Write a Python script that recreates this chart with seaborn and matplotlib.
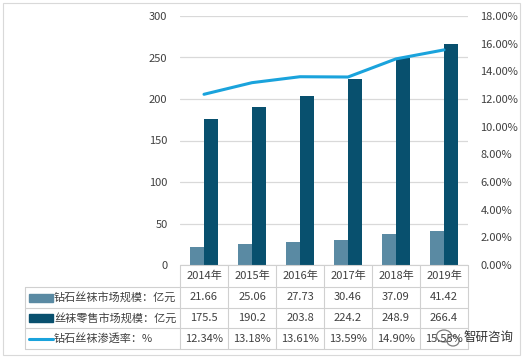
import matplotlib
matplotlib.use("Agg")
import matplotlib.pyplot as plt
import seaborn as sns
import pandas as pd
import numpy as np
from matplotlib.lines import Line2D
from matplotlib.patches import Rectangle, Ellipse
from matplotlib.ticker import MultipleLocator, FuncFormatter

# 数据
years = ["2014年", "2015年", "2016年", "2017年", "2018年", "2019年"]
diamond_size = [21.66, 25.06, 27.73, 30.46, 37.09, 41.42]
retail_size = [175.5, 190.2, 203.8, 224.2, 248.9, 266.4]
penetration = [12.34, 13.18, 13.61, 13.59, 14.90, 15.55]
series_names = ["钻石丝袜市场规模：亿元", "丝袜零售市场规模：亿元", "钻石丝袜渗透率：%"]
colors = ["#5a8aa3", "#08506e", "#1aa3dc"]

sns.set_theme(style="white")
plt.rcParams['font.family'] = ['Noto Sans CJK SC', 'DejaVu Sans']
plt.rcParams['axes.unicode_minus'] = False
TXT = "#404040"

W, H = 526, 360
fig = plt.figure(figsize=(W / 100, H / 100), dpi=100)


def fx(x):
    return x / W


def fy(y):
    return 1 - y / H


L, R, T, B = 180, 468, 16, 265
ax = fig.add_axes([fx(L), fy(B), fx(R) - fx(L), fy(T) - fy(B)])

df = pd.DataFrame({
    "year": years * 2,
    "value": diamond_size + retail_size,
    "series": [series_names[0]] * 6 + [series_names[1]] * 6,
})
sns.barplot(data=df, x="year", y="value", hue="series", palette=colors[:2],
            width=0.58, gap=0, ax=ax, legend=False, saturation=1, linewidth=0)
ax.set_xlim(-0.5, 5.5)
ax.set_ylim(0, 300)
ax.yaxis.set_major_locator(MultipleLocator(50))
ax.grid(axis="y", color="#d9d9d9", linewidth=0.9)
ax.set_axisbelow(True)
for s in ax.spines.values():
    s.set_visible(False)
ax.set_xticks([])
ax.set_xlabel("")
ax.set_ylabel("")
ax.tick_params(axis="y", length=0, pad=9, labelsize=8, labelcolor=TXT)

ax2 = ax.twinx()
sns.lineplot(x=np.arange(len(years)), y=penetration, ax=ax2, color=colors[2],
             linewidth=2.2)
ax2.set_ylim(0, 18)
ax2.yaxis.set_major_locator(MultipleLocator(2))
ax2.yaxis.set_major_formatter(FuncFormatter(lambda v, p: f"{v:.2f}%"))
ax2.tick_params(axis="y", length=0, pad=9, labelsize=8, labelcolor=TXT)
for s in ax2.spines.values():
    s.set_visible(False)
ax2.grid(False)

# 数据表
lc = "#d0d0d0"
cw = (R - L) / len(years)
rows = [B, 287, 308, 328, 349]
for i in range(len(years) + 1):
    x = L + i * cw
    fig.add_artist(Line2D([fx(x), fx(x)], [fy(B), fy(rows[-1])], color=lc, lw=0.8))
fig.add_artist(Line2D([fx(25), fx(25)], [fy(rows[1]), fy(rows[-1])], color=lc, lw=0.8))
fig.add_artist(Line2D([fx(L), fx(R)], [fy(B), fy(B)], color=lc, lw=0.8))
for y in rows[1:]:
    fig.add_artist(Line2D([fx(25), fx(R)], [fy(y), fy(y)], color=lc, lw=0.8))

for i, yr in enumerate(years):
    cx = L + (i + 0.5) * cw
    fig.text(fx(cx), fy((rows[0] + rows[1]) / 2), yr, ha="center", va="center",
             fontsize=8, color=TXT)
    cells = [f"{diamond_size[i]:.2f}", f"{retail_size[i]:g}", f"{penetration[i]:.2f}%"]
    for r, c in enumerate(cells):
        fig.text(fx(cx), fy((rows[r + 1] + rows[r + 2]) / 2), c, ha="center",
                 va="center", fontsize=8, color=TXT)

# 图例行
for r in range(3):
    cy = (rows[r + 1] + rows[r + 2]) / 2
    if r < 2:
        fig.add_artist(Rectangle((fx(29), fy(cy + 4)), fx(24), fy(cy - 4) - fy(cy + 4),
                                 color=colors[r], transform=fig.transFigure))
    else:
        fig.add_artist(Line2D([fx(29), fx(53)], [fy(cy), fy(cy)], color=colors[2], lw=2.2))
    fig.text(fx(54), fy(cy), series_names[r], ha="left", va="center",
             fontsize=8, color=TXT)

# 水印（微信图标用图形近似）
for (ex, ey, ew, eh) in [(444, 336, 15, 12), (453, 341, 12, 10)]:
    fig.add_artist(Ellipse((fx(ex), fy(ey)), fx(ew), fy(0) - fy(eh),
                           facecolor="white", edgecolor="#666666", lw=0.9,
                           alpha=0.85, transform=fig.transFigure))
fig.text(fx(513), fy(337), "智研咨询", ha="right", va="center", fontsize=9,
         color="#333333")

# 外框
fig.add_artist(Rectangle((fx(3), fy(355)), fx(520) - fx(3), fy(3) - fy(355),
                         fill=False, edgecolor="#d9d9d9", lw=0.8,
                         transform=fig.transFigure))

fig.savefig("out.png", dpi=100)
